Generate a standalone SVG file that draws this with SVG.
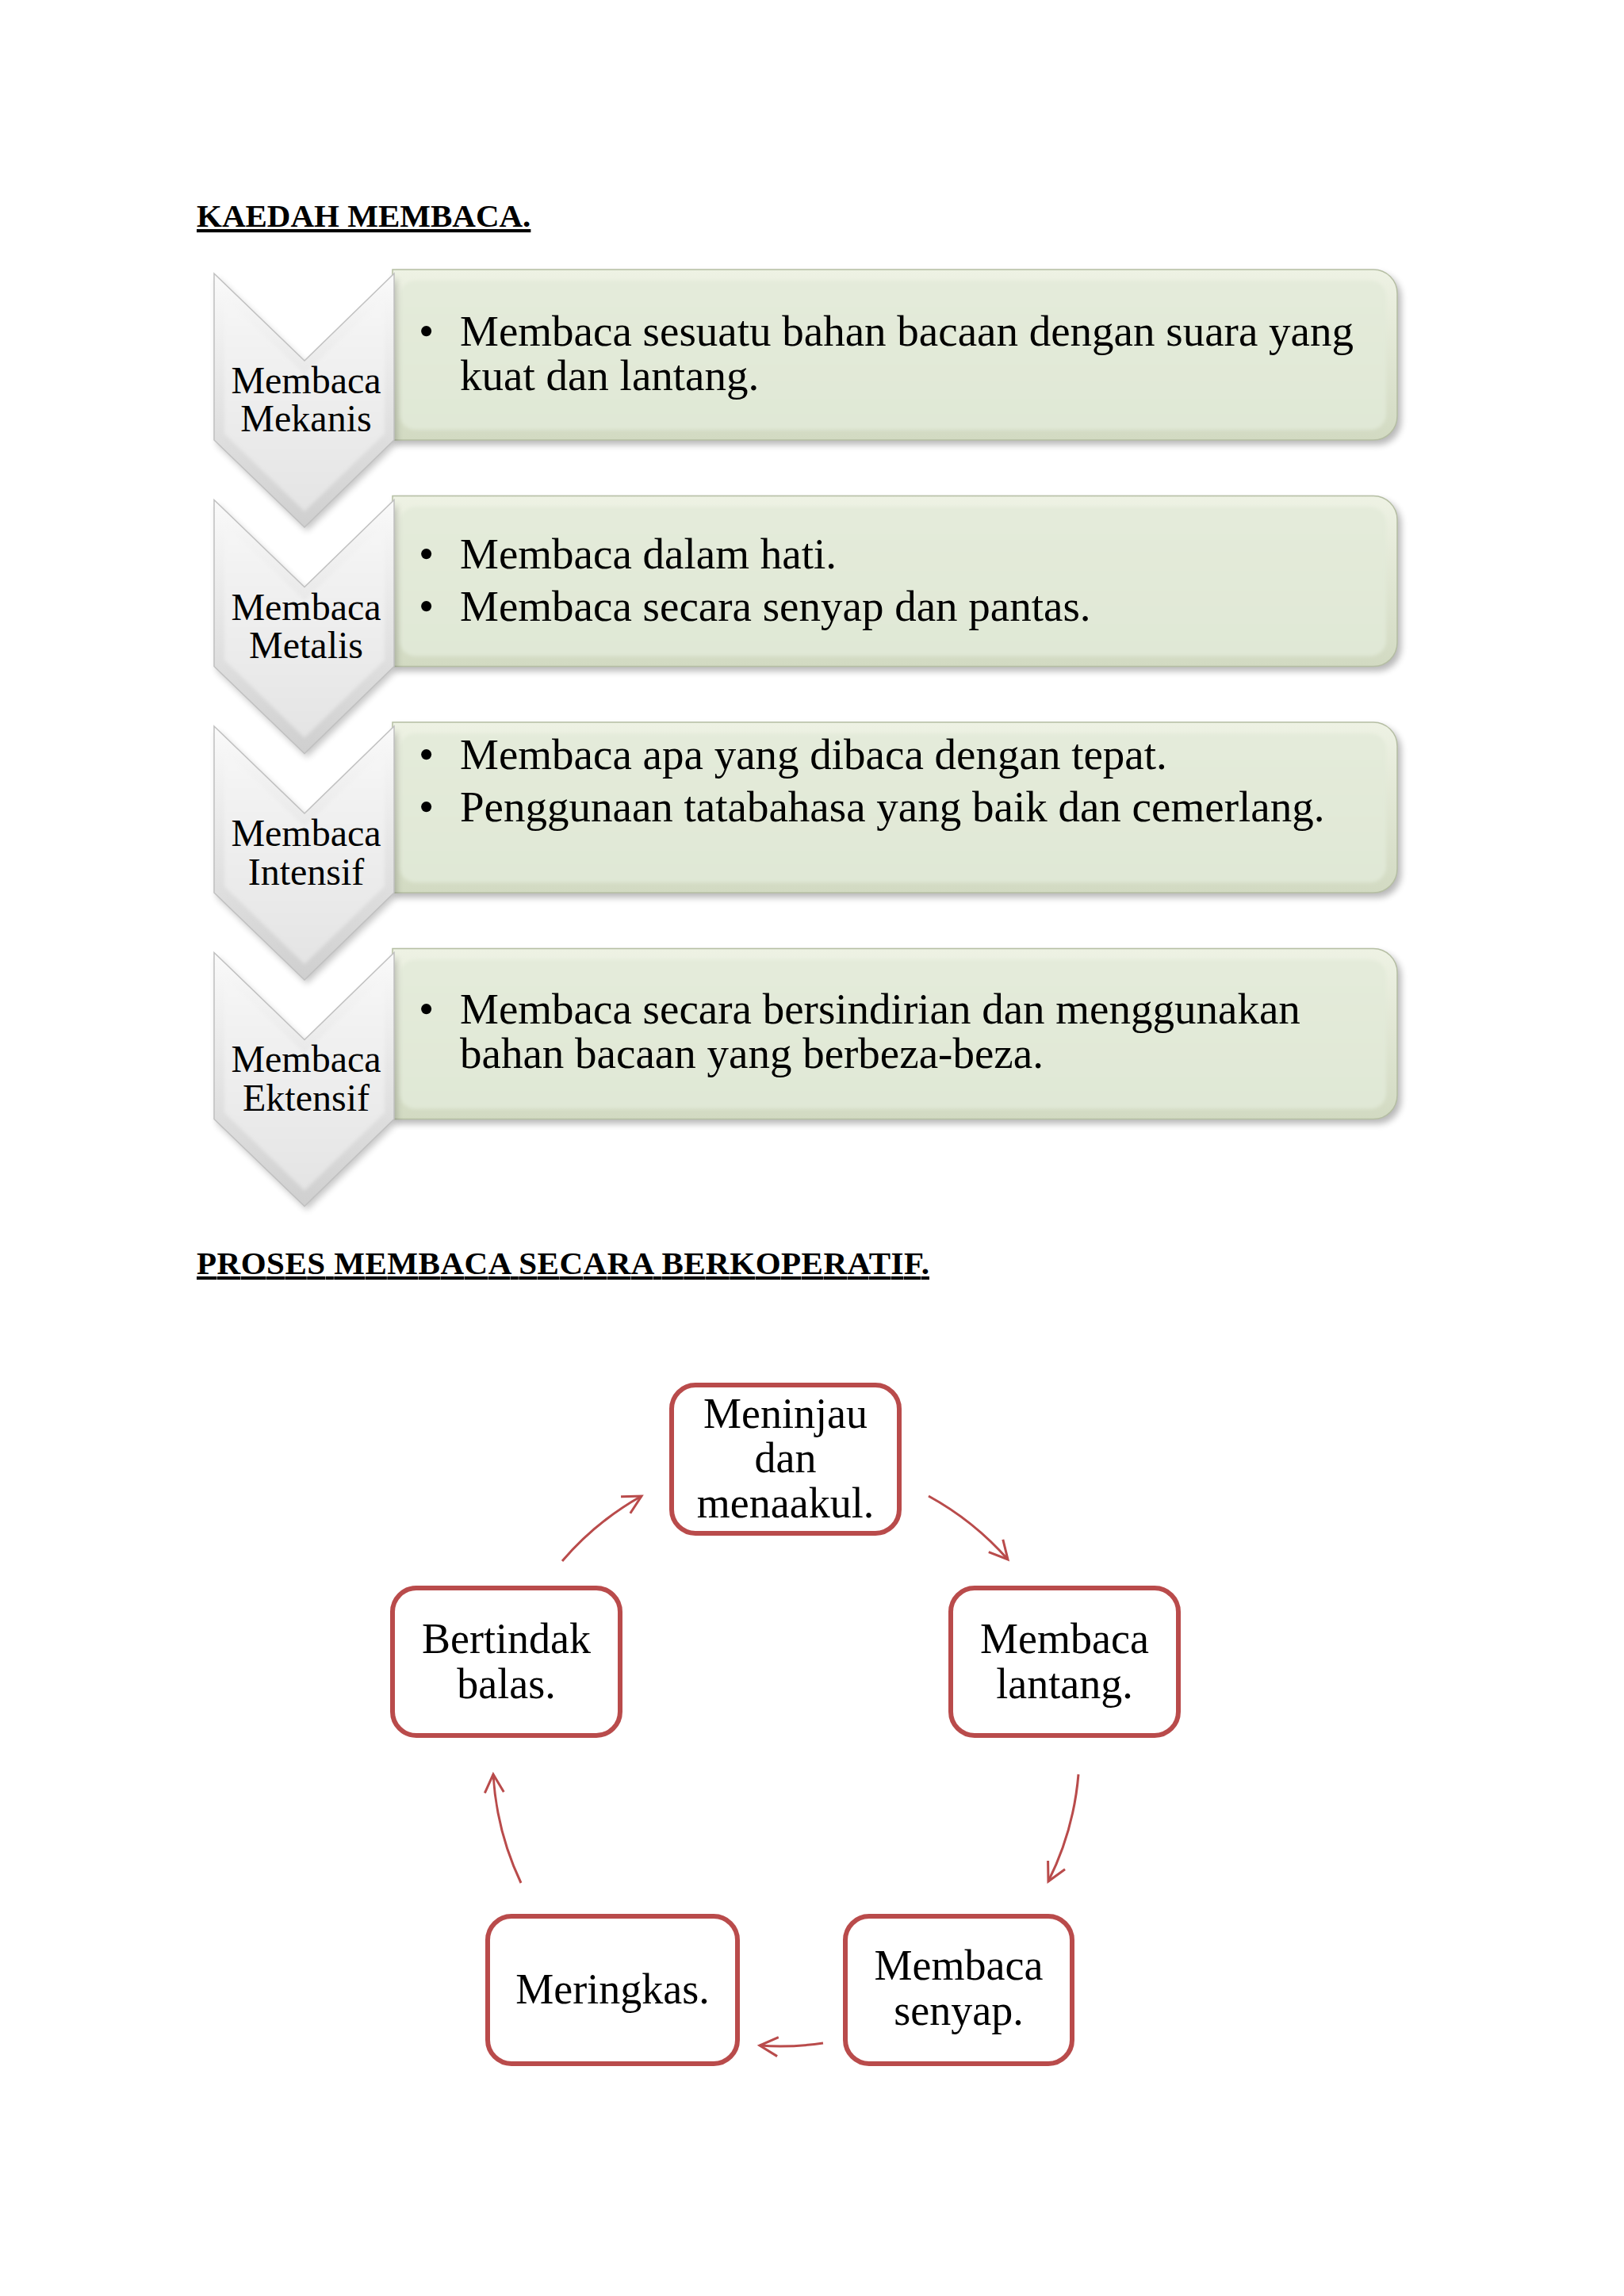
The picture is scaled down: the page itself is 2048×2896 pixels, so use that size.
<svg xmlns="http://www.w3.org/2000/svg" width="2048" height="2896" viewBox="0 0 2048 2896">
  <defs>
    <style>
      .title { font-family: "Liberation Serif", "Times New Roman", serif; font-size: 41px; font-weight: bold; fill: #000; text-decoration: underline; }
      .btxt { font-family: "Liberation Serif", "Times New Roman", serif; font-size: 55px; fill: #000; }
      .ctxt { font-family: "Liberation Serif", "Times New Roman", serif; font-size: 48px; fill: #000; text-anchor: middle; }
      .ntxt { font-family: "Liberation Serif", "Times New Roman", serif; font-size: 54px; fill: #000; text-anchor: middle; }
      .node { fill: #ffffff; stroke: #b94b4b; stroke-width: 6; }
      .conn { fill: none; stroke: #b94b4b; stroke-width: 3; }
    </style>
    <linearGradient id="gBox" x1="0" y1="0" x2="0" y2="1">
      <stop offset="0" stop-color="#eef2e4"/>
      <stop offset="1" stop-color="#d2dac2"/>
    </linearGradient>
    <linearGradient id="gBoxIn" x1="0" y1="0" x2="0" y2="1">
      <stop offset="0" stop-color="#e4ebda"/>
      <stop offset="1" stop-color="#e0e8d6"/>
    </linearGradient>
    <linearGradient id="gChev" x1="0" y1="0" x2="0" y2="1">
      <stop offset="0" stop-color="#fafafa"/>
      <stop offset="1" stop-color="#cfcfcf"/>
    </linearGradient>
    <linearGradient id="gChevIn" x1="0" y1="0" x2="0" y2="1">
      <stop offset="0" stop-color="#f6f6f6"/>
      <stop offset="1" stop-color="#e4e4e4"/>
    </linearGradient>
    <filter id="shadow" x="-10%" y="-10%" width="120%" height="130%">
      <feGaussianBlur stdDeviation="4"/>
    </filter>
    <filter id="soft" x="-5%" y="-5%" width="110%" height="110%">
      <feGaussianBlur stdDeviation="2"/>
    </filter>
    <g id="boxShape">
      <path d="M498,345 H1737 A30,30 0 0 1 1767,375 V531 A30,30 0 0 1 1737,561 H498 Z" fill="#000" opacity="0.28" filter="url(#shadow)"/>
      <path d="M495,340 H1732 A30,30 0 0 1 1762,370 V525 A30,30 0 0 1 1732,555 H495 Z" fill="url(#gBox)" stroke="#b5bea3" stroke-width="1.5"/>
      <rect x="504" y="354" width="1244" height="188" rx="20" fill="url(#gBoxIn)" filter="url(#soft)"/>
    </g>
    <g id="chevShape">
      <polygon points="273,350 387,460 500,350 500,560 387,670 273,560" fill="#000" opacity="0.22" filter="url(#shadow)"/>
      <polygon points="270,345 384,455 497,345 497,555 384,665 270,555" fill="url(#gChev)" stroke="#c0c0c0" stroke-width="1.5"/>
      <polygon points="283,375 384,472 485,375 485,547 384,645 283,547" fill="url(#gChevIn)" filter="url(#soft)"/>
    </g>
    <marker id="ah" markerUnits="userSpaceOnUse" markerWidth="40" markerHeight="40" viewBox="-30 -20 40 40" refX="0" refY="0" orient="auto">
      <path d="M-23,-12 L0,0 L-23,12" fill="none" stroke="#b94b4b" stroke-width="3"/>
    </marker>
  </defs>

  <rect width="2048" height="2896" fill="#ffffff"/>

  <g id="title-kaedah">
    <text class="title" x="248" y="286">KAEDAH MEMBACA.</text>
  </g>

  <g id="step-1">
    <use href="#boxShape"/>
    <use href="#chevShape"/>
    <text class="ctxt" x="386" y="496">Membaca</text>
    <text class="ctxt" x="386" y="544">Mekanis</text>
    <text class="btxt" x="528" y="436">•</text>
    <text class="btxt" x="580" y="436">Membaca sesuatu bahan bacaan dengan suara yang</text>
    <text class="btxt" x="580" y="492">kuat dan lantang.</text>
  </g>

  <g id="step-2">
    <use href="#boxShape" y="285.5"/>
    <use href="#chevShape" y="285.5"/>
    <text class="ctxt" x="386" y="782">Membaca</text>
    <text class="ctxt" x="386" y="830">Metalis</text>
    <text class="btxt" x="528" y="717">•</text>
    <text class="btxt" x="580" y="717">Membaca dalam hati.</text>
    <text class="btxt" x="528" y="783">•</text>
    <text class="btxt" x="580" y="783">Membaca secara senyap dan pantas.</text>
  </g>

  <g id="step-3">
    <use href="#boxShape" y="571"/>
    <use href="#chevShape" y="571"/>
    <text class="ctxt" x="386" y="1067">Membaca</text>
    <text class="ctxt" x="386" y="1116">Intensif</text>
    <text class="btxt" x="528" y="970">•</text>
    <text class="btxt" x="580" y="970">Membaca apa yang dibaca dengan tepat.</text>
    <text class="btxt" x="528" y="1036">•</text>
    <text class="btxt" x="580" y="1036">Penggunaan tatabahasa yang baik dan cemerlang.</text>
  </g>

  <g id="step-4">
    <use href="#boxShape" y="856.5"/>
    <use href="#chevShape" y="856.5"/>
    <text class="ctxt" x="386" y="1352">Membaca</text>
    <text class="ctxt" x="386" y="1401">Ektensif</text>
    <text class="btxt" x="528" y="1291">•</text>
    <text class="btxt" x="580" y="1291">Membaca secara bersindirian dan menggunakan</text>
    <text class="btxt" x="580" y="1347">bahan bacaan yang berbeza-beza.</text>
  </g>

  <g id="title-proses">
    <text class="title" x="248" y="1607" textLength="924" lengthAdjust="spacing">PROSES MEMBACA SECARA BERKOPERATIF.</text>
  </g>

  <g id="connectors">
    <path class="conn" d="M1171,1887 A370,370 0 0 1 1271,1967" marker-end="url(#ah)"/>
    <path class="conn" d="M1360,2238 A370,370 0 0 1 1322,2373" marker-end="url(#ah)"/>
    <path class="conn" d="M1038,2577 A370,370 0 0 1 958,2580" marker-end="url(#ah)"/>
    <path class="conn" d="M657,2375 A370,370 0 0 1 622,2238" marker-end="url(#ah)"/>
    <path class="conn" d="M709,1969 A370,370 0 0 1 809,1887" marker-end="url(#ah)"/>
  </g>

  <g id="node-meninjau">
    <rect class="node" x="847" y="1747" width="287" height="187" rx="30"/>
    <text class="ntxt" x="990.5" y="1801">Meninjau</text>
    <text class="ntxt" x="990.5" y="1857">dan</text>
    <text class="ntxt" x="990.5" y="1914">menaakul.</text>
  </g>

  <g id="node-lantang">
    <rect class="node" x="1199" y="2003" width="287" height="186" rx="30"/>
    <text class="ntxt" x="1342.5" y="2085">Membaca</text>
    <text class="ntxt" x="1342.5" y="2142">lantang.</text>
  </g>

  <g id="node-senyap">
    <rect class="node" x="1066" y="2417" width="286" height="186" rx="30"/>
    <text class="ntxt" x="1209" y="2497">Membaca</text>
    <text class="ntxt" x="1209" y="2554">senyap.</text>
  </g>

  <g id="node-meringkas">
    <rect class="node" x="615" y="2417" width="315" height="186" rx="30"/>
    <text class="ntxt" x="772.5" y="2527">Meringkas.</text>
  </g>

  <g id="node-bertindak">
    <rect class="node" x="495" y="2003" width="287" height="186" rx="30"/>
    <text class="ntxt" x="638.5" y="2085">Bertindak</text>
    <text class="ntxt" x="638.5" y="2142">balas.</text>
  </g>
</svg>
